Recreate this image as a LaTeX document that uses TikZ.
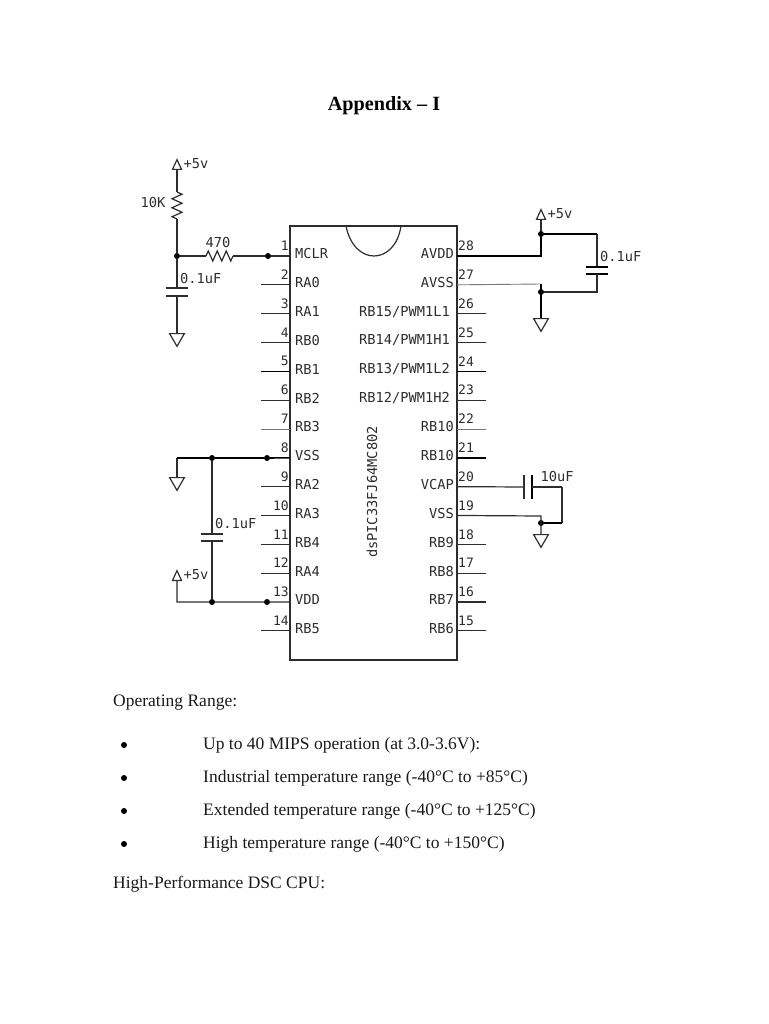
\documentclass[tikz,border=0pt]{standalone}
\usepackage{fontspec}
\setmainfont{Liberation Serif}
\setmonofont{DejaVu Sans Mono}
\usetikzlibrary{shapes.geometric, positioning, calc, decorations.pathmorphing}
\definecolor{inkgray}{RGB}{45, 45, 45}
\definecolor{paleline}{RGB}{120, 120, 120}

\begin{document}
\begin{tikzpicture}[
    x=1pt, y=-1pt,
    chip/.style={rectangle, draw=inkgray, line width=1.2pt, minimum width=167pt, minimum height=434pt, inner sep=0pt},
    wire/.style={draw=inkgray, line width=1.2pt},
    heavy/.style={draw=black, line width=1.6pt},
    pale/.style={draw=paleline, line width=0.9pt},
    res/.style={wire, decorate, decoration={zigzag, segment length=9pt, amplitude=5pt}},
    dot/.style={circle, fill=black, inner sep=0pt, minimum size=6pt},
    gnd/.style={regular polygon, regular polygon sides=3, shape border rotate=180, draw=inkgray, line width=1.2pt, minimum size=17pt, inner sep=0pt, anchor=north},
    vcc/.style={regular polygon, regular polygon sides=3, draw=inkgray, line width=1.2pt, minimum size=13pt, inner sep=0pt, anchor=south, xscale=0.8},
    lbl/.style={inkgray, inner sep=0pt, font=\ttfamily\fontsize{13.7}{16}\selectfont},
    pinl/.style={lbl, anchor=west},
    pinr/.style={lbl, anchor=east},
    num/.style={inkgray, inner sep=0pt, font=\ttfamily\fontsize{13}{14}\selectfont},
    body/.style={inner sep=0pt, anchor=west, text=black!90, font=\fontsize{17.5}{20}\selectfont},
    bullet/.style={circle, fill=black, inner sep=0pt, minimum size=6pt}
]

% Page
\useasboundingbox (0,0) rectangle (768,1024);
\node[inner sep=0pt, font=\bfseries\fontsize{20.2}{23}\selectfont] (title) at (384,106) {Appendix -- I};

% Chip
\node[chip] (ic) at (373.5,443) {};
\draw[wire] (346,226) .. controls (350,246) and (362,256) .. (374,256) .. controls (386,256) and (398,246) .. (401,226);
\node[lbl, rotate=90] (partno) at (372,492) {dsPIC33FJ64MC802};

% Left pins
\foreach \n/\name in {1/MCLR, 2/RA0, 3/RA1, 4/RB0, 5/RB1, 6/RB2, 7/RB3, 8/VSS, 9/RA2, 10/RA3, 11/RB4, 12/RA4, 13/VDD, 14/RB5} {
    \coordinate (pl\n) at (290,{256+28.83*(\n-1)});
    \coordinate (sl\n) at (261,{256+28.83*(\n-1)});
    \node[pinl] (namel\n) at (295,{254+28.83*(\n-1)}) {\name};
    \node[num, anchor=east] (numl\n) at (289,{246+28.83*(\n-1)}) {\n};
}

% Right pins
\foreach \n/\name in {28/AVDD, 27/AVSS, 22/RB10, 21/RB10, 20/VCAP, 19/VSS, 18/RB9, 17/RB8, 16/RB7, 15/RB6} {
    \node[pinr] (namer\n) at (454,{254+28.83*(28-\n)}) {\name};
}
\foreach \n/\name in {26/{RB15/PWM1L1}, 25/{RB14/PWM1H1}, 24/{RB13/PWM1L2}, 23/{RB12/PWM1H2}} {
    \node[pinr] (namer\n) at (450,{254+28.83*(28-\n)}) {\name};
}
\foreach \n in {15,...,28} {
    \coordinate (pr\n) at (457,{256+28.83*(28-\n)});
    \coordinate (sr\n) at (486,{256+28.83*(28-\n)});
    \node[num, anchor=west] (numr\n) at (458,{246+28.83*(28-\n)}) {\n};
}

% Pin stubs
\foreach \n in {2,3,4,6,9,10,11,12,14} \draw[wire] (pl\n) -- (sl\n);
\draw[heavy] (pl5) -- (sl5);
\draw[pale] (pl7) -- (sl7);
\foreach \n in {26,25,23,18,17,16,15} \draw[wire] (pr\n) -- (sr\n);
\draw[heavy] (pr24) -- (sr24);
\draw[heavy] (pr21) -- (sr21);
\draw[pale] (pr22) -- (sr22);

% Reset network
\node[vcc] (vcca) at (177,170) {};
\coordinate (ra1) at (177,192);
\coordinate (ra2) at (177,219);
\node[dot] (ja) at (177,256) {};
\coordinate (rb1) at (206,256);
\coordinate (rb2) at (233,256);
\node[dot] (jb) at (268,256) {};
\coordinate (ca1) at (177,288);
\coordinate (ca2) at (177,296);
\node[gnd] (gnda) at (177,333) {};
\draw[wire] (vcca.south) -- (ra1);
\draw[res] (ra1) -- (ra2);
\draw[wire] (ra2) -- (ja);
\draw[wire] (ja) -- (rb1);
\draw[res] (rb1) -- (rb2);
\draw[wire] (rb2) -- (jb) -- (pl1);
\draw[wire] (ja) -- (ca1);
\draw[wire] ($(ca1)+(-11,0)$) -- ($(ca1)+(11,0)$);
\draw[wire] ($(ca2)+(-11,0)$) -- ($(ca2)+(11,0)$);
\draw[wire] (ca2) -- (gnda.north);
\node[lbl] (vccalbl) at (196,164) {+5v};
\node[lbl] (r10k) at (153,203) {10K};
\node[lbl] (r470) at (218,243) {470};
\node[lbl, anchor=west] (caval) at (180,279) {0.1uF};

% Analog supply
\node[vcc] (vccb) at (541,220) {};
\node[dot] (jc) at (541,234) {};
\coordinate (jd) at (541,256);
\coordinate (ce) at (597,234);
\coordinate (cb1) at (597,267);
\coordinate (cb2) at (597,274);
\coordinate (cf) at (597,292);
\node[dot] (je) at (541,292) {};
\coordinate (jf) at (541,284);
\node[gnd] (gndb) at (541,318) {};
\draw[wire] (vccb.south) -- (jc);
\draw[heavy] (jc) -- (jd) -- (pr28);
\draw[heavy] (jc) -- (ce);
\draw[wire] (ce) -- (cb1);
\draw[heavy] ($(cb1)+(-11,0)$) -- ($(cb1)+(11,0)$);
\draw[heavy] ($(cb2)+(-11,0)$) -- ($(cb2)+(11,0)$);
\draw[wire] (cb2) -- (cf) -- (je);
\draw[pale] (pr27) -- (jf);
\draw[heavy] (jf) -- (gndb.north);
\node[lbl] (vccblbl) at (560,214) {+5v};
\node[lbl, anchor=west] (cbval) at (600,257) {0.1uF};

% Decoupling on VSS and VDD
\node[gnd] (gndc) at (177,477) {};
\coordinate (jg) at (177,458);
\node[dot] (jh) at (212,458) {};
\node[dot] (ji) at (267,458) {};
\coordinate (cc1) at (212,534);
\coordinate (cc2) at (212,541);
\node[dot] (jj) at (212,602) {};
\node[dot] (jk) at (267,602) {};
\coordinate (jl) at (177,602);
\node[vcc] (vccc) at (177,581) {};
\draw[wire] (gndc.north) -- (jg);
\draw[heavy] (jg) -- (jh) -- (ji) -- (pl8);
\draw[wire] (jh) -- (cc1);
\draw[wire] ($(cc1)+(-11,0)$) -- ($(cc1)+(11,0)$);
\draw[wire] ($(cc2)+(-11,0)$) -- ($(cc2)+(11,0)$);
\draw[wire] (cc2) -- (jj);
\draw[wire] (vccc.south) -- (jl) -- (jj) -- (jk) -- (pl13);
\node[lbl, anchor=west] (ccval) at (215,524) {0.1uF};
\node[lbl] (vccclbl) at (196,575) {+5v};

% VCAP
\coordinate (cd1) at (524,487);
\coordinate (cd2) at (532,487);
\coordinate (cg) at (562,487);
\coordinate (ch) at (562,523);
\node[dot] (jm) at (541,523) {};
\coordinate (jn) at (541,516);
\node[gnd] (gndd) at (541,534) {};
\draw[wire] (pr20) -- (cd1);
\draw[wire] ($(cd1)+(0,-12)$) -- ($(cd1)+(0,12)$);
\draw[heavy] ($(cd2)+(0,-12)$) -- ($(cd2)+(0,12)$);
\draw[wire] (cd2) -- (cg);
\draw[wire] (cg) -- (ch);
\draw[heavy] (ch) -- (jm);
\draw[wire] (pr19) -- (jn) -- (gndd.north);
\node[lbl] (cdval) at (557,477) {10uF};

% Text below
\node[body] (range) at (113,703) {Operating Range:};
\foreach \y/\txt [count=\i] in {745/{Up to 40 MIPS operation (at 3.0-3.6V):}, 778/{Industrial temperature range (-40°C to +85°C)}, 811/{Extended temperature range (-40°C to +125°C)}, 844/{High temperature range (-40°C to +150°C)}} {
    \node[bullet] (bul\i) at (124,\y) {};
    \node[body] (item\i) at (203,\y) {\txt};
}
\node[body] (cpu) at (113,884) {High-Performance DSC CPU:};

\end{tikzpicture}
\end{document}
